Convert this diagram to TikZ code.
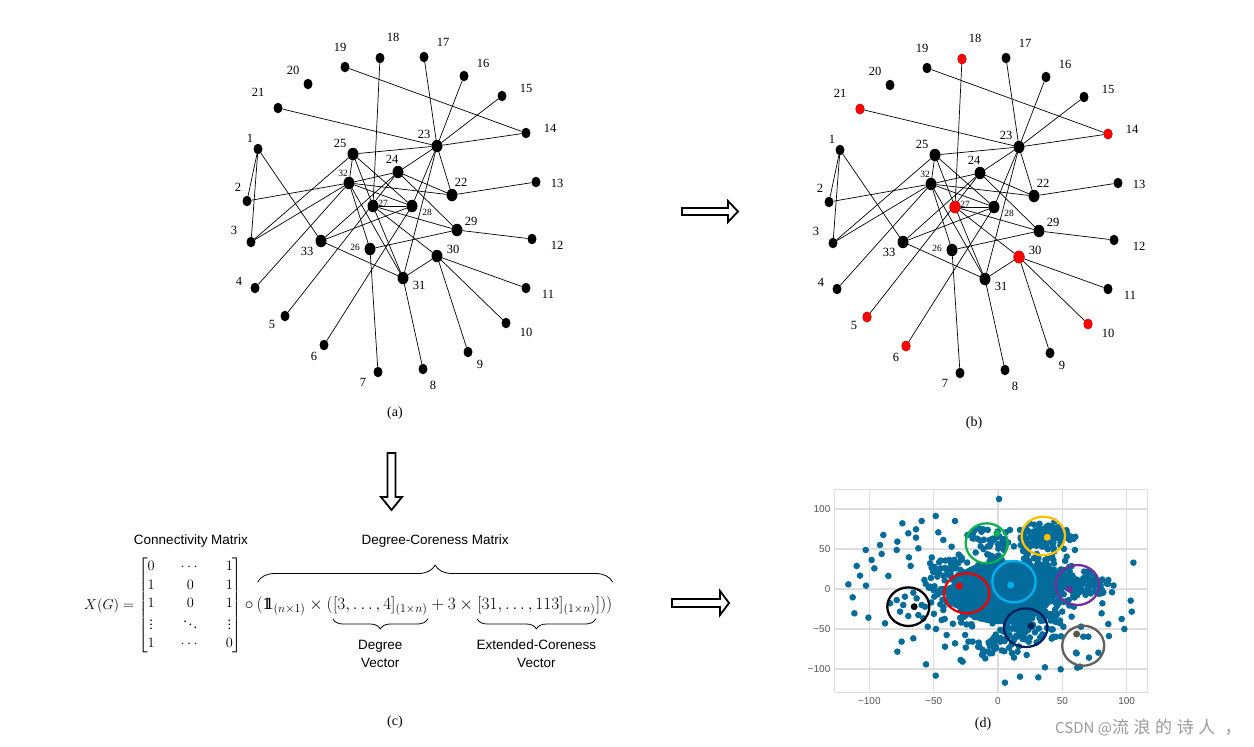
\documentclass[tikz,border=0pt]{standalone}
\usepackage{amsmath}
\usepackage{fontspec}
\setmainfont{Liberation Serif}
\setsansfont{Liberation Sans}
\newfontfamily\cjkfont{Noto Sans CJK SC}
\usetikzlibrary{shapes.geometric,decorations.pathreplacing,calc,positioning}
\newcommand\onevec{\mathrm{1}\mkern-6.5mu\mathrm{1}}
\newcommand\cjkgap{\hspace{4.6pt}}
\definecolor{dotblue}{RGB}{3,108,155}
\definecolor{gridgray}{RGB}{222,222,222}
\definecolor{tickgray}{RGB}{85,85,85}
\definecolor{clgreen}{RGB}{16,176,80}
\definecolor{clyellow}{RGB}{255,192,0}
\definecolor{clcyan}{RGB}{0,176,240}
\definecolor{clred}{RGB}{240,0,0}
\definecolor{clpurple}{RGB}{112,48,160}
\definecolor{clnavy}{RGB}{0,32,96}
\definecolor{clgray}{RGB}{96,96,96}
\definecolor{cldot}{RGB}{88,88,72}
\tikzset{
  vtx/.style={ellipse,fill=black,inner sep=0pt,minimum width=9pt,minimum height=10.5pt},
  hub/.style={vtx,minimum width=11pt,minimum height=12.5pt},
  link/.style={line width=0.7pt},
  num/.style={font=\fontsize{12.5}{14}\selectfont,inner sep=0pt},
  smallnum/.style={font=\fontsize{9.5}{11}\selectfont,inner sep=0pt},
  subcap/.style={font=\fontsize{14}{16}\selectfont,inner sep=0pt},
  hollow/.style={draw=black,line width=1.8pt,fill=white,line join=miter},
  formula/.style={font=\fontsize{14.4}{17.3}\selectfont,inner sep=0pt,anchor=base west},
  bigformula/.style={formula,font=\fontsize{17.28}{20}\selectfont},
  sanslab/.style={font=\sffamily\fontsize{13.5}{18}\selectfont,inner sep=0pt,align=center},
  overbrace/.style={decorate,decoration={brace,amplitude=17pt},line width=0.8pt},
  underbrace/.style={decorate,decoration={brace,mirror,amplitude=10pt},line width=0.8pt},
  gridline/.style={gridgray,line width=1.1pt},
  ticklab/.style={font=\sffamily\fontsize{10}{12}\selectfont,text=tickgray,inner sep=0pt},
  clus/.style={line width=2.3pt},
}
% node positions of the toy network (pixels of panel a)
\def\leaflist{1/258/149,2/247/201,3/251/242,4/255/288,5/285/316,6/324/345,7/378/372,8/423/369,9/468/352,10/506/323,11/526/288,12/532/239,13/536/182,14/526/133,15/502/96,16/464/76,17/424/57,18/380/58,19/345/67,20/308/84,21/278/108}
\def\hublist{22/452/195,23/437/146,24/398/172,25/353/154,26/370/249,27/373/206,28/412/206,29/457/230,30/437/256,31/403/278,32/349/183,33/321/241}
\def\numlist{1/250/138,2/238/187,3/234/230,4/239/281,5/272/324,6/314/356,7/363/382,8/433/385,9/480/364,10/526/332,11/548/294,12/557/245,13/557/183,14/550/128,15/526/88,16/483/63,17/443/42,18/393/37,19/340/47,20/293/70,21/258/92,22/461/182,23/424/134,24/392/159,25/340/143,29/471/221,30/453/249,31/419/285,33/307/251}
\def\smalllist{26/355/247,27/383/203,28/427/212,32/343/173}
\def\edgelist{1/2,1/3,1/33,2/32,3/25,3/32,4/32,5/24,6/28,7/26,8/31,9/30,10/30,11/30,12/29,13/22,14/19,14/23,15/23,16/23,17/23,18/27,21/23,22/23,22/24,22/32,23/24,23/25,23/28,23/31,24/29,24/32,24/33,25/32,25/28,25/27,26/29,26/32,27/28,27/29,27/30,27/31,28/32,28/33,31/32,31/33,30/31}
\newcommand\drawnet[1]{%
  \foreach \n/\x/\y in \leaflist {\node[vtx] (#1\n) at (\x,\y) {};}
  \foreach \n/\x/\y in \hublist {\node[hub] (#1\n) at (\x,\y) {};}
  \foreach \u/\v in \edgelist {\draw[link] (#1\u) -- (#1\v);}
  \foreach \n/\x/\y in \numlist {\node[num] (#1l\n) at (\x,\y) {\n};}
  \foreach \n/\x/\y in \smalllist {\node[smallnum] (#1l\n) at (\x,\y) {\n};}
}
% embedding: isolated points (data units)
\def\outliers{0.8/112.5,-48.4/91.3,-33.4/85,-46.4/70.8,-59.3/85,-74.3/82.1,-63.7/74.6,-89.1/67.5,-69.7/69.6,-78.2/59.2,-63.7/64.2,-91.7/55,-102.8/48.8,-90.4/43.8,-78.7/48.8,-61.9/50.8,-69.2/39.6,-98.2/36.3,-109.8/28.8,-96.1/25.8,-67.9/28.8,-107.2/16.7,-85.2/16.3,-116.3/5.8,-102.6/4.2,-112.9/-10.4,-111.6/-30.4,-100.7/-35.8,-87.8/-42.9,-78.2/-78.3,-55.9/-94.2,-48.4/-108.3,5.4/-117.1,17.1/-109.6,31.3/-110.4,36.5/-97.9,48.7/-100.4,61.6/-98.3,105.2/32.9,103.1/-14.6,103.9/-28.3,96.1/-37.5,98.2/-50,86.2/-58.8,85.7/-43.8,81.1/-17.9,78/-79.6,70.7/-85.8,61.1/-80.4,66.3/-59.6,64.5/-47.1,70.2/-59.6,-74.9/-65.8,-65.8/-61.7,-54.6/-47.1,-48.2/-50,-39.9/-57.5,-41.2/-72.1,-33.4/-67.9,-23/-65.8,-29/-88.8,-27.5/-90.8,22.3/-82.5,-6.2/-80.4,-11.4/-79.6,50.8/-47.1,43/-59.6,57.2/-34.6,80.5/-30.4,-42.5/61.3,-36/52.9,-37.8/36.3,-52.8/32.1,-57.2/11.3,-52.8/2.9,-49.5/-9.6,-42.5/-26.3,-43.8/-38.8,-58/-36.7,-19.7/63.3,9.3/73.8,17.1/73.8,19.7/52.9,55.9/61.3,59.8/48.8,53.4/40.4,43/36.3,85.7/11.3,-78.7/-13.8,-72.3/-9.6,-63.2/-11.7,-59.3/-20,-76.1/-28.3,-69.7/-33.8,-61.9/-32.5,-56.7/-22.1,-73.6/-20,-65.8/-4.6,-83.9/-17.9,60.6/-79.6,63.7/-97.1}
% embedding: clusters centre/spread/count
\def\clusters{2/-4/30/24/650,37/66/12/10/110,63/6/14/9/110,-8/58/11/12/40,22/-52/15/12/60,25/30/14/14/50,40/8/9/16/60,-2/-70/14/10/40,-35/20/12/14/35}

\begin{document}
\begin{tikzpicture}[x=1pt,y=-1pt,line cap=round,line join=round]
\useasboundingbox (0,0) rectangle (1254,747);

% panel (a)
\drawnet{a}
\node[subcap] (capa) at (395,413) {(a)};

% panel (b)
\begin{scope}[xshift=582pt,yshift=-1pt]
\drawnet{b}
\end{scope}
\foreach \n in {5,6,10,14,18,21} \node[vtx,fill=red] at (b\n) {};
\foreach \n in {27,30} \node[hub,fill=red] at (b\n) {};
\node[subcap] (capb) at (974,423) {(b)};

% hollow arrows
\draw[hollow] (682,208) -- (728,208) -- (728,201) -- (738,211.5) -- (728,222) -- (728,215) -- (682,215) -- cycle;
\draw[hollow] (387.5,453) -- (395.5,453) -- (395.5,497) -- (402,497) -- (391.5,510) -- (381,497) -- (387.5,497) -- cycle;
\draw[hollow] (672,599) -- (720,599) -- (720,591) -- (729,603) -- (720,615) -- (720,607) -- (672,607) -- cycle;

% panel (c): the feature matrix
\node[formula] (lhs) at (84,609) {\setlength\arraycolsep{13pt}\renewcommand\arraystretch{1.08}$X(G)=\begin{bmatrix}0&\cdots&1\\1&0&1\\1&0&1\\\vdots&\ddots&\vdots\\1&\cdots&0\end{bmatrix}$};
\node[bigformula] (op) at ($(lhs.base east)+(2,0)$) {$\circ\,(\onevec_{(n\times 1)}\times($};
\node[bigformula] (degv) at (op.base east) {$[3,\ldots,4]_{(1\times n)}$};
\node[bigformula] (mid) at (degv.base east) {${}+3\times{}$};
\node[bigformula] (corev) at (mid.base east) {$[31,\ldots,113]_{(1\times n)}$};
\node[bigformula] (cls) at (corev.base east) {$]))$};
\draw[overbrace] ($(op.west|-0,582)+(13,0)$) -- (cls.east|-0,582) coordinate[midway] (tbmid);
\draw[underbrace] (degv.west|-0,619) -- (degv.east|-0,619);
\draw[underbrace] (corev.west|-0,619) -- (corev.east|-0,619);
\node[sanslab] (conlab) at (191,541) {Connectivity Matrix};
\node[sanslab] (dclab) at (tbmid|-0,541) {Degree-Coreness Matrix};
\node[sanslab,anchor=north] (deglab) at (degv.center|-0,640) {Degree\\Vector};
\node[sanslab,anchor=north] (corelab) at (corev.center|-0,640) {Extended-Coreness\\Vector};
\node[subcap] (capc) at (395,722) {(c)};

% panel (d): embedding
\begin{scope}[shift={(998,589)},x=1.287pt,y=0.8pt]
  \begin{scope}
    \clip (-127,-129) rectangle (116,124);
    \foreach \g in {-100,-50,0,50,100} {
      \draw[gridline] (\g,-129) -- (\g,124);
      \draw[gridline] (-127,\g) -- (116,\g);
    }
    \pgfmathsetseed{4242}
    \fill[dotblue] (3,-4) ellipse [x radius=52pt,y radius=32pt];
    \foreach \cu/\cv/\su/\sv/\k in \clusters {
      \foreach \i in {1,...,\k} {
        \pgfmathsetmacro\u{\cu+\su*(rand+rand)}
        \pgfmathsetmacro\v{\cv+\sv*(rand+rand)}
        \fill[dotblue] (\u,\v) circle (3.3pt);
      }
    }
    \foreach \u/\v in \outliers \fill[dotblue] (\u,\v) circle (3.3pt);
  \end{scope}
  \draw[gridgray,line width=1.1pt] (-127,-129) rectangle (116,124);
  \foreach \g/\t in {-100/−100,-50/−50,0/0,50/50,100/100} {
    \node[ticklab,anchor=east] at ([xshift=-4pt]-127,\g) {\t};
    \node[ticklab,anchor=north] at ([yshift=-5pt]\g,-129) {\t};
  }
  % k-means groups
  \draw[clus,clgreen] (-8.8,57.1) ellipse [x radius=21pt,y radius=20pt];
  \fill[clgreen] (-1,69.6) circle (3.5pt);
  \draw[clus,clyellow] (35.2,66.3) ellipse [x radius=21.7pt,y radius=19.3pt];
  \fill[clyellow] (38.3,64.6) circle (3.5pt);
  \draw[clus,clcyan] (12.4,9.1) ellipse [x radius=21.7pt,y radius=20.7pt];
  \fill[clcyan] (9.9,5) circle (3.5pt);
  \draw[clus,clred] (-24.3,-5.4) ellipse [x radius=22.7pt,y radius=20pt];
  \fill[clred] (-30.1,3.8) circle (3.5pt);
  \draw[clus,clpurple] (61.7,5) ellipse [x radius=21.7pt,y radius=20pt];
  \fill[clpurple] (55.5,-0.4) circle (3.5pt);
  \draw[clus,black] (-69.7,-22.1) ellipse [x radius=21pt,y radius=19.3pt];
  \fill[black] (-65.1,-22.1) circle (3.5pt);
  \draw[clus,clnavy] (21.5,-48.4) ellipse [x radius=21.7pt,y radius=19.3pt];
  \fill[clnavy] (25.6,-46.3) circle (3.5pt);
  \draw[clus,clgray] (66.2,-70.9) ellipse [x radius=21pt,y radius=20pt];
  \fill[cldot] (61.1,-56.3) circle (3.5pt);
\end{scope}
\node[subcap] (capd) at (983,724) {(d)};

% watermark
\node[anchor=west,inner sep=0pt,text=gray!80,font=\cjkfont\fontsize{15}{18}\selectfont] (mark) at (1055,728) {CSDN @{\fontsize{17}{18}\selectfont 流\cjkgap 浪\cjkgap 的\cjkgap 诗\cjkgap 人\cjkgap\cjkgap ，}};
\end{tikzpicture}
\end{document}
